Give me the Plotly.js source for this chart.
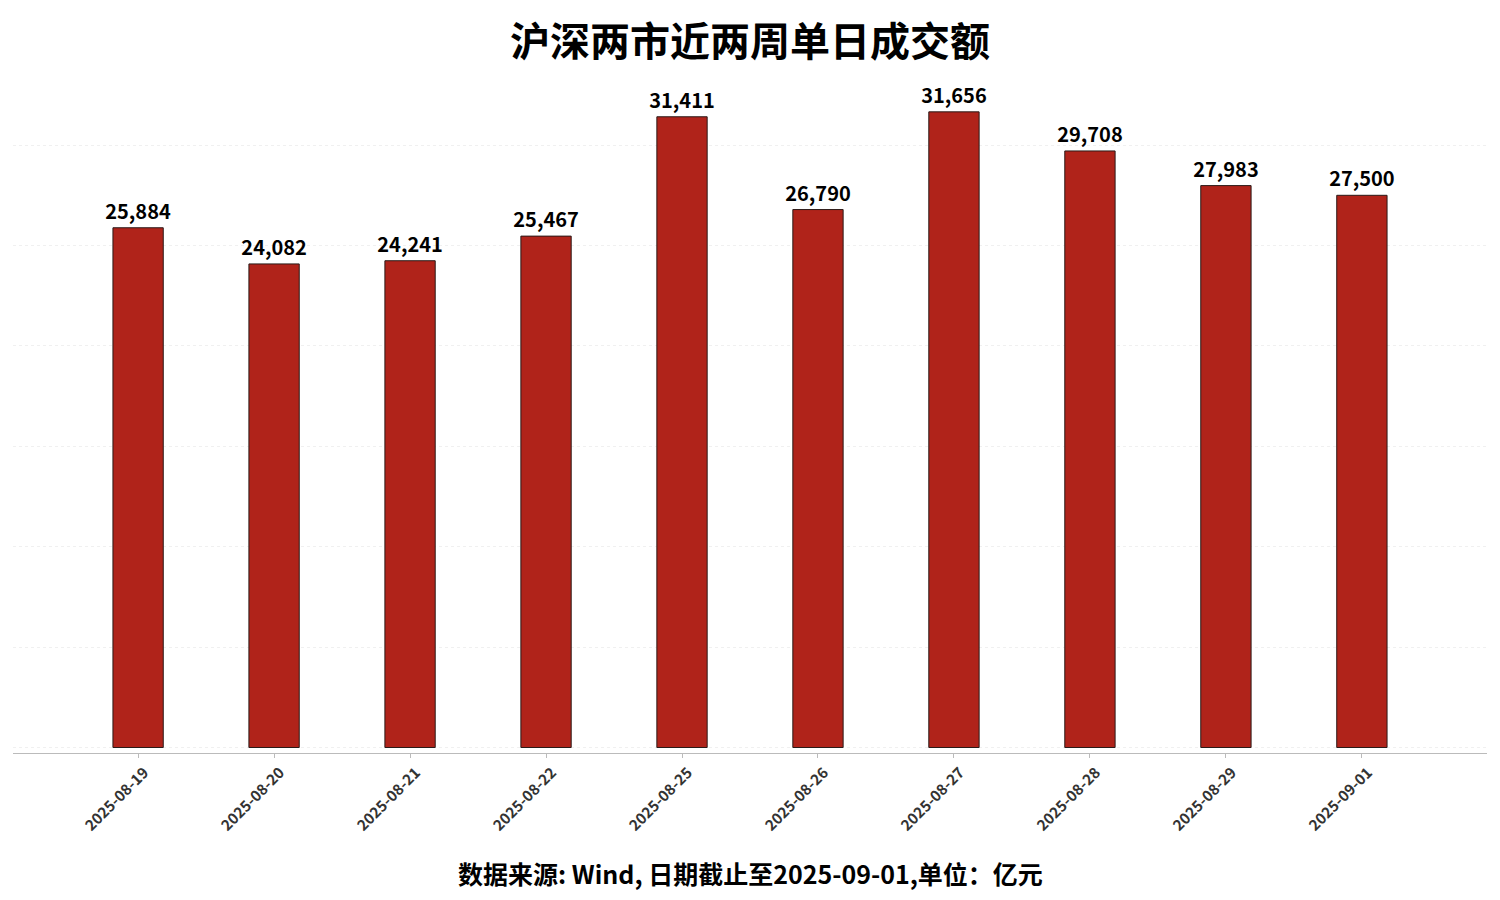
<!DOCTYPE html>
<html>
<head>
<meta charset="utf-8">
<script src="https://cdn.plot.ly/plotly-3.0.1.min.js"></script>
<style>html,body{margin:0;padding:0;background:#fff;}#chart{width:1500px;height:900px;}</style>
</head>
<body>
<div id="chart"></div>
<script>
const dates = ["2025-08-19","2025-08-20","2025-08-21","2025-08-22","2025-08-25","2025-08-26","2025-08-27","2025-08-28","2025-08-29","2025-09-01"];
const turnover = [25884, 24082, 24241, 25467, 31411, 26790, 31656, 29708, 27983, 27500];
const chartTitle = "沪深两市近两周单日成交额";
const sourceNote = "数据来源: Wind, 日期截止至2025-09-01,单位：亿元";

const FONT = "Noto Sans CJK SC, Noto Sans, sans-serif";

const trace = {
  type: "bar",
  x: dates,
  y: turnover,
  width: 0.37,
  marker: {color: "#B0231A", line: {color: "#2a1a18", width: 1}},
  text: turnover.map(v => v.toLocaleString("en-US")),
  textposition: "outside",
  constraintext: "none",
  cliponaxis: false,
  textfont: {family: FONT, size: 20, color: "#000", weight: "bold"},
  hoverinfo: "x+y"
};

const layout = {
  width: 1500, height: 900,
  paper_bgcolor: "#fff", plot_bgcolor: "#fff",
  margin: {l: 13, r: 13, t: 80, b: 147},
  showlegend: false,
  title: {text: "<b>" + chartTitle + "</b>", x: 0.5, xanchor: "center", y: 0.953, yanchor: "middle",
          font: {family: FONT, size: 40, color: "#000"}},
  xaxis: {
    type: "category",
    range: [-0.92, 9.92],
    tickangle: -45,
    tickfont: {family: FONT, size: 15, color: "#333", weight: "bold"},
    ticklabelshift: 6,
    showline: true, linecolor: "#bbb", linewidth: 1,
    ticks: "outside", ticklen: 4, tickcolor: "#bbb",
    showgrid: false, zeroline: false, fixedrange: true
  },
  yaxis: {
    range: [-274, 33242],
    dtick: 5000, tick0: 0,
    showticklabels: false,
    showgrid: true, gridcolor: "#f0f0f0", griddash: "dot", gridwidth: 1,
    zeroline: false, showline: false, ticks: "", fixedrange: true
  },
  annotations: [{
    text: "<b>" + sourceNote + "</b>",
    xref: "paper", yref: "paper", x: 0.5, y: -0.178, xanchor: "center", yanchor: "middle",
    showarrow: false, font: {family: FONT, size: 25, color: "#000"}
  }],
  bargap: 0.63
};

Plotly.newPlot("chart", [trace], layout, {displayModeBar: false, staticPlot: true});
</script>
</body>
</html>
